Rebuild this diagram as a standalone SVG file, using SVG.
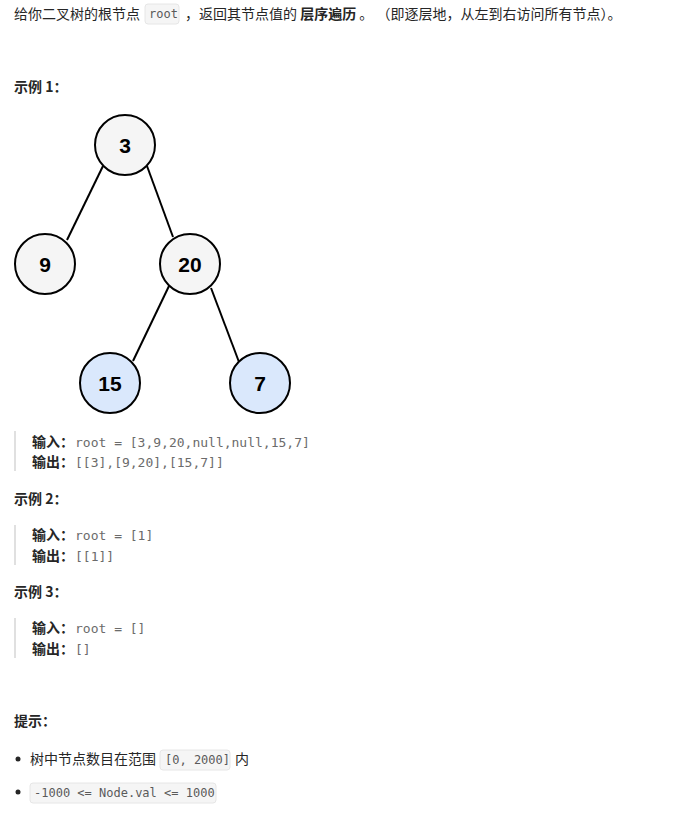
<svg xmlns="http://www.w3.org/2000/svg" width="682" height="830" viewBox="0 0 682 830">
<style>
.t{font-family:"Noto Sans CJK SC","Noto Sans",sans-serif;font-size:14px;fill:#262626}
.b{font-weight:bold}
.c{font-family:"DejaVu Sans Mono","Liberation Mono",monospace;font-size:13px;fill:#6b6b6b}
.ci{font-family:"DejaVu Sans Mono","Liberation Mono",monospace;font-size:12px;fill:#5a5a5a}
.cb{fill:#f5f5f5;stroke:#e6e6e6;stroke-width:1}
.n{stroke:#000;stroke-width:2}
.nl{font-family:"Liberation Sans",Arial,sans-serif;font-size:21px;font-weight:bold;text-anchor:middle;fill:#000}
.bar{fill:#e0e0e0}
</style>
<rect width="682" height="830" fill="#fff"/>
<rect class="cb" x="145" y="4" width="34" height="20" rx="3"/>
<text class="t" x="14" y="19">给你二叉树的根节点 <tspan x="185">，返回其节点值的 </tspan><tspan class="b">层序遍历</tspan> 。 （即逐层地，从左到右访问所有节点）。</text>
<text class="ci" x="149" y="18">root</text>
<text class="t b" x="14" y="92">示例 1：</text>
<g id="edges" stroke="#000" stroke-width="2">
<line x1="103" y1="166" x2="67" y2="240"/>
<line x1="147" y1="166" x2="173" y2="237"/>
<line x1="169" y1="286" x2="133" y2="361"/>
<line x1="211" y1="288" x2="239" y2="362"/>
</g>
<g id="n3"><circle class="n" cx="125" cy="145" r="30" fill="#f5f5f5"/><text class="nl" x="125" y="153">3</text></g>
<g id="n9"><circle class="n" cx="45" cy="264" r="30" fill="#f5f5f5"/><text class="nl" x="45" y="272">9</text></g>
<g id="n20"><circle class="n" cx="190" cy="264" r="30" fill="#f5f5f5"/><text class="nl" x="190" y="272">20</text></g>
<g id="n15"><circle class="n" cx="110" cy="383" r="30" fill="#dae8fc"/><text class="nl" x="110" y="391">15</text></g>
<g id="n7"><circle class="n" cx="260" cy="383" r="30" fill="#dae8fc"/><text class="nl" x="260" y="391">7</text></g>
<rect class="bar" x="14" y="431" width="2" height="40"/>
<text class="t b" x="32" y="447">输入：</text><text class="c" x="75" y="447">root = [3,9,20,null,null,15,7]</text>
<text class="t b" x="32" y="467">输出：</text><text class="c" x="75" y="467">[[3],[9,20],[15,7]]</text>
<text class="t b" x="14" y="504">示例 2：</text>
<rect class="bar" x="14" y="525" width="2" height="40"/>
<text class="t b" x="32" y="540">输入：</text><text class="c" x="75" y="540">root = [1]</text>
<text class="t b" x="32" y="561">输出：</text><text class="c" x="75" y="561">[[1]]</text>
<text class="t b" x="14" y="597">示例 3：</text>
<rect class="bar" x="14" y="618" width="2" height="40"/>
<text class="t b" x="32" y="633">输入：</text><text class="c" x="75" y="633">root = []</text>
<text class="t b" x="32" y="654">输出：</text><text class="c" x="75" y="654">[]</text>
<text class="t b" x="14" y="726">提示：</text>
<circle cx="18" cy="759" r="2.5" fill="#262626"/>
<text class="t" x="30" y="764">树中节点数目在范围</text>
<rect class="cb" x="160" y="750" width="70" height="20" rx="3"/>
<text class="ci" x="165" y="764">[0, 2000]</text>
<text class="t" x="235" y="764">内</text>
<circle cx="18" cy="792" r="2.5" fill="#262626"/>
<rect class="cb" x="30" y="783" width="186" height="20" rx="3"/>
<text class="ci" x="34" y="797">-1000 &lt;= Node.val &lt;= 1000</text>
</svg>
